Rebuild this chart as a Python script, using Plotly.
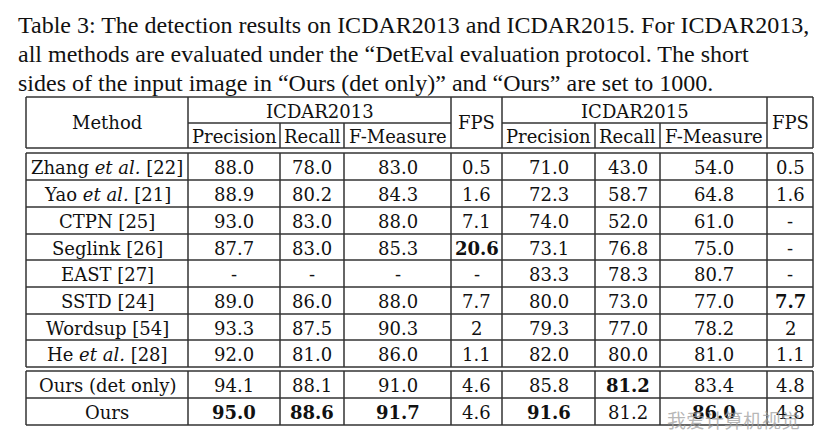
import plotly.graph_objects as go

caption = [
    "Table 3: The detection results on ICDAR2013 and ICDAR2015. For ICDAR2013,",
    "all methods are evaluated under the “DetEval evaluation protocol. The short",
    "sides of the input image in “Ours (det only)” and “Ours” are set to 1000.",
]
methods = [
    "Zhang <i>et al.</i> [22]", "Yao <i>et al.</i> [21]", "CTPN [25]", "Seglink [26]",
    "EAST [27]", "SSTD [24]", "Wordsup [54]", "He <i>et al.</i> [28]",
    "Ours (det only)", "Ours",
]
prec13 = ["88.0", "88.9", "93.0", "87.7", "-", "89.0", "93.3", "92.0", "94.1", "<b>95.0</b>"]
rec13 = ["78.0", "80.2", "83.0", "83.0", "-", "86.0", "87.5", "81.0", "88.1", "<b>88.6</b>"]
fm13 = ["83.0", "84.3", "88.0", "85.3", "-", "88.0", "90.3", "86.0", "91.0", "<b>91.7</b>"]
fps13 = ["0.5", "1.6", "7.1", "<b>20.6</b>", "-", "7.7", "2", "1.1", "4.6", "4.6"]
prec15 = ["71.0", "72.3", "74.0", "73.1", "83.3", "80.0", "79.3", "82.0", "85.8", "<b>91.6</b>"]
rec15 = ["43.0", "58.7", "52.0", "76.8", "78.3", "73.0", "77.0", "80.0", "<b>81.2</b>", "81.2"]
fm15 = ["54.0", "64.8", "61.0", "75.0", "80.7", "77.0", "78.2", "81.0", "83.4", "<b>86.0</b>"]
fps15 = ["0.5", "1.6", "-", "-", "-", "<b>7.7</b>", "2", "1.1", "4.8", "4.8"]
sub_headers = ["Precision", "Recall", "F-Measure"]

# column edges (px) and row edges
xs = [18, 180, 272, 336, 443, 494, 587, 652, 759, 805]
head_top, head_mid, head_bot = 89, 115, 140
rows_a = [145, 172, 199, 226, 252, 279, 306, 332, 359]
rows_b = [363, 390, 417]

fig = go.Figure()
fig.add_trace(go.Scatter(x=[0, 828], y=[0, 448], mode="markers", marker=dict(opacity=0)))

line = dict(color="#333", width=1.5)
font = dict(family="DejaVu Serif", size=18, color="#111")


def hline(x0, x1, y):
    fig.add_shape(type="line", x0=x0, x1=x1, y0=y, y1=y, line=line)


def vline(x, y0, y1):
    fig.add_shape(type="line", x0=x, x1=x, y0=y0, y1=y1, line=line)


def text(x, y, s, size=18):
    fig.add_annotation(x=x, y=y, text=s, showarrow=False, xanchor="center",
                       yanchor="middle", font=dict(font, size=size))


for i, c in enumerate(caption):
    fig.add_annotation(x=8, y=17 + i * 29, text=c, showarrow=False,
                       font=dict(family="Liberation Serif", size=24, color="#111"),
                       xanchor="left", yanchor="middle")

# header
hline(xs[0], xs[-1], head_top)
hline(xs[0], xs[-1], head_bot)
hline(xs[1], xs[4], head_mid)
hline(xs[5], xs[8], head_mid)
for x in [xs[0], xs[1], xs[4], xs[5], xs[8], xs[9]]:
    vline(x, head_top, head_bot)
for x in [xs[2], xs[3], xs[6], xs[7]]:
    vline(x, head_mid, head_bot)
text((xs[0] + xs[1]) / 2, (head_top + head_bot) / 2, "Method")
text((xs[1] + xs[4]) / 2, (head_top + head_mid) / 2 + 1, "ICDAR2013")
text((xs[5] + xs[8]) / 2, (head_top + head_mid) / 2 + 1, "ICDAR2015")
text((xs[4] + xs[5]) / 2, (head_top + head_bot) / 2, "FPS")
text((xs[8] + xs[9]) / 2, (head_top + head_bot) / 2, "FPS")
for k, h in enumerate(sub_headers):
    text((xs[1 + k] + xs[2 + k]) / 2, (head_mid + head_bot) / 2 + 1, h)
    text((xs[5 + k] + xs[6 + k]) / 2, (head_mid + head_bot) / 2 + 1, h)

# body
cols = [methods, prec13, rec13, fm13, fps13, prec15, rec15, fm15, fps15]
for edges, idx in [(rows_a, range(0, 8)), (rows_b, range(8, 10))]:
    for y in edges:
        hline(xs[0], xs[-1], y)
    for x in xs:
        vline(x, edges[0], edges[-1])
    for j, r in enumerate(idx):
        yc = (edges[j] + edges[j + 1]) / 2 + 1
        for c, col in enumerate(cols):
            text((xs[c] + xs[c + 1]) / 2, yc, col[r])

# watermark
fig.add_annotation(x=725, y=411, text="我爱计算机视觉", showarrow=False,
                   font=dict(family="Noto Sans CJK SC", size=19, color="rgba(160,160,160,0.75)"))

fig.update_xaxes(range=[0, 828], visible=False)
fig.update_yaxes(range=[448, 0], visible=False)
fig.update_layout(width=828, height=448, margin=dict(l=0, r=0, t=0, b=0),
                  plot_bgcolor="white", paper_bgcolor="white", showlegend=False)
fig.write_html("out.html")
